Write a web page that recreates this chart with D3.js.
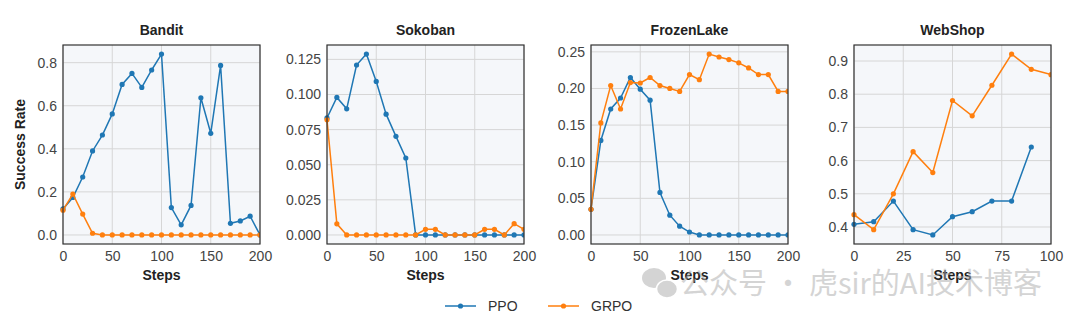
<!DOCTYPE html>
<html>
<head>
<meta charset="utf-8">
<script src="https://cdn.jsdelivr.net/npm/d3@7"></script>
<style>
  body { margin: 0; background: #fff; }
  svg { font-family: "Liberation Sans", Arial, sans-serif; }
  .grid line { stroke: #d6d6d6; stroke-width: 1; }
  .tick text { fill: #444; font-size: 14px; }
</style>
</head>
<body>
<svg id="canvas" width="1080" height="325"></svg>
<script>
const svg = d3.select("#canvas");

// step values
const steps200 = [0,10,20,30,40,50,60,70,80,90,100,110,120,130,140,150,160,170,180,190,200];
const steps100 = [0,10,20,30,40,50,60,70,80,90,100];

const banditPPO  = [0.121,0.174,0.269,0.39,0.464,0.562,0.699,0.75,0.685,0.766,0.84,0.127,0.047,0.137,0.637,0.472,0.787,0.054,0.065,0.087,0.0];
const banditGRPO = [0.115,0.19,0.097,0.008,0,0,0,0,0,0,0,0,0,0,0,0,0,0,0,0,0];

const sokobanPPO  = [0.0833,0.0979,0.0898,0.121,0.1288,0.1093,0.086,0.0702,0.0548,0,0,0,0,0,0,0,0,0,0,0,0];
const sokobanGRPO = [0.082,0.0079,0,0,0,0,0,0,0,0,0.004,0.004,0,0,0,0,0.004,0.004,0,0.008,0.004];

const frozenPPO  = [0.035,0.129,0.172,0.187,0.215,0.199,0.184,0.058,0.027,0.012,0.004,0,0,0,0,0,0,0,0,0,0];
const frozenGRPO = [0.035,0.153,0.204,0.172,0.208,0.2075,0.215,0.204,0.20,0.196,0.219,0.212,0.247,0.243,0.2395,0.235,0.228,0.219,0.219,0.196,0.196];

const webshopPPO  = [0.408,0.416,0.478,0.392,0.376,0.431,0.446,0.478,0.478,0.641];
const webshopGRPO = [0.437,0.392,0.5,0.627,0.564,0.781,0.735,0.827,0.921,0.875,0.859];

const panels = [
    { title: "Bandit", steps: steps200, ppo: banditPPO, grpo: banditGRPO, xmax: 200,
      xticks: [0,50,100,150,200], yticks: [0,0.2,0.4,0.6,0.8], fmt: d3.format(".1f") },
    { title: "Sokoban", steps: steps200, ppo: sokobanPPO, grpo: sokobanGRPO, xmax: 200,
      xticks: [0,50,100,150,200], yticks: [0,0.025,0.05,0.075,0.1,0.125], fmt: d3.format(".3f") },
    { title: "FrozenLake", steps: steps200, ppo: frozenPPO, grpo: frozenGRPO, xmax: 200,
      xticks: [0,50,100,150,200], yticks: [0,0.05,0.1,0.15,0.2,0.25], fmt: d3.format(".2f") },
    { title: "WebShop", steps: steps100, ppo: webshopPPO, grpo: webshopGRPO, xmax: 100,
      xticks: [0,25,50,75,100], yticks: [0.4,0.5,0.6,0.7,0.8,0.9], fmt: d3.format(".1f") }
];

const colors = { ppo: "#1f77b4", grpo: "#ff7f0e" };
const lefts = [63, 327, 591, 854];
const plotTop = 45, w = 197, h = 199;

panels.forEach((p, i) => {
    const g = svg.append("g").attr("transform", `translate(${lefts[i]},${plotTop})`);
    const all = p.ppo.concat(p.grpo);
    const lo = d3.min(all), hi = d3.max(all), pad = (hi - lo) * 0.05;
    const x = d3.scaleLinear().domain([0, p.xmax]).range([0, w]);
    const y = d3.scaleLinear().domain([lo - pad, hi + pad]).range([h, 0]);

    g.append("rect").attr("width", w).attr("height", h).attr("fill", "#f5f7fa");

    const grid = g.append("g").attr("class", "grid");
    p.xticks.forEach(t => grid.append("line").attr("x1", x(t)).attr("x2", x(t)).attr("y1", 0).attr("y2", h));
    p.yticks.forEach(t => grid.append("line").attr("y1", y(t)).attr("y2", y(t)).attr("x1", 0).attr("x2", w));

    const clip = "clip" + i;
    g.append("clipPath").attr("id", clip).append("rect").attr("x", -4).attr("y", -4).attr("width", w + 4).attr("height", h + 8);

    const series = [
        { vals: p.ppo, color: colors.ppo },
        { vals: p.grpo, color: colors.grpo }
    ];
    series.forEach(s => {
        const pts = s.vals.map((v, j) => ({ x: p.steps[j], y: v }));
        const sg = g.append("g").attr("clip-path", `url(#${clip})`);
        sg.append("path").datum(pts)
            .attr("fill", "none").attr("stroke", s.color).attr("stroke-width", 1.5)
            .attr("d", d3.line().x(d => x(d.x)).y(d => y(d.y)));
        sg.selectAll("circle").data(pts).enter().append("circle")
            .attr("cx", d => x(d.x)).attr("cy", d => y(d.y)).attr("r", 2.6)
            .attr("fill", s.color);
    });

    g.append("rect").attr("width", w).attr("height", h)
        .attr("fill", "none").attr("stroke", "#333").attr("stroke-width", 1.2);

    const xa = g.append("g").attr("transform", `translate(0,${h})`)
        .call(d3.axisBottom(x).tickValues(p.xticks).tickSize(0).tickPadding(7));
    xa.select(".domain").remove();
    const ya = g.append("g")
        .call(d3.axisLeft(y).tickValues(p.yticks).tickFormat(p.fmt).tickSize(0).tickPadding(6));
    ya.select(".domain").remove();

    g.append("text").attr("x", w / 2).attr("y", -10).attr("text-anchor", "middle")
        .attr("font-size", 14).attr("font-weight", "bold").attr("fill", "#222").text(p.title);
    g.append("text").attr("x", w / 2).attr("y", h + 36).attr("text-anchor", "middle")
        .attr("font-size", 14).attr("font-weight", "bold").attr("fill", "#222").text("Steps");
    if (i === 0) {
        g.append("text").attr("transform", `translate(-38,${h / 2}) rotate(-90)`)
            .attr("text-anchor", "middle").attr("font-size", 14).attr("font-weight", "bold")
            .attr("fill", "#222").text("Success Rate");
    }
});

// legend
const legend = [{ name: "PPO", color: colors.ppo, x: 445 }, { name: "GRPO", color: colors.grpo, x: 548 }];
legend.forEach(l => {
    const lg = svg.append("g").attr("transform", `translate(${l.x},306)`);
    lg.append("line").attr("x1", 0).attr("x2", 31).attr("stroke", l.color).attr("stroke-width", 1.5);
    lg.append("circle").attr("cx", 15.5).attr("r", 2.6).attr("fill", l.color);
    lg.append("text").attr("x", 43).attr("y", 5).attr("font-size", 14).attr("fill", "#333").text(l.name);
});

// watermark
const wm = svg.append("g").attr("opacity", 0.5);
wm.append("ellipse").attr("cx", 654).attr("cy", 278).attr("rx", 12).attr("ry", 10).attr("fill", "#aaa");
wm.append("ellipse").attr("cx", 667).attr("cy", 289).attr("rx", 10.5).attr("ry", 9).attr("fill", "#aaa").attr("stroke", "#fff").attr("stroke-width", 1.5);
wm.append("text").attr("x", 680).attr("y", 294).attr("font-size", 29)
    .attr("font-family", "'Noto Sans CJK SC', sans-serif").attr("fill", "#aaa")
    .text("公众号 · 虎sir的AI技术博客");
</script>
</body>
</html>
